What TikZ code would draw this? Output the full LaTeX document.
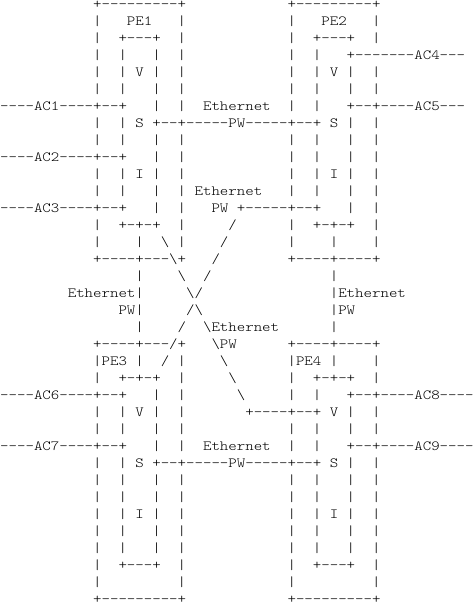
\documentclass[tikz,border=0pt]{standalone}
\usepackage{fontspec}
\setmonofont[FakeStretch=1.15]{lmmonolt10-regular.otf}
\usepackage{tikz}

\begin{document}
\begin{tikzpicture}[x=8.45pt,y=17pt,
  asciirow/.style={anchor=base west,inner sep=0pt,font=\ttfamily\fontsize{14pt}{17pt}\selectfont}]
\useasboundingbox (0,0) rectangle (474pt,-603pt);
\node[asciirow] (row0) at (0,-0.5) {\obeyspaces{}           +---------+            +---------+};
\node[asciirow] (row1) at (0,-1.5) {\obeyspaces{}           |   PE1   |            |   PE2   |};
\node[asciirow] (row2) at (0,-2.5) {\obeyspaces{}           |  +---+  |            |  +---+  |};
\node[asciirow] (row3) at (0,-3.5) {\obeyspaces{}           |  |   |  |            |  |   +-------AC4---};
\node[asciirow] (row4) at (0,-4.5) {\obeyspaces{}           |  | V |  |            |  | V |  |};
\node[asciirow] (row5) at (0,-5.5) {\obeyspaces{}           |  |   |  |            |  |   |  |};
\node[asciirow] (row6) at (0,-6.5) {\obeyspaces{}----AC1----+--+   |  |  Ethernet  |  |   +--+----AC5---};
\node[asciirow] (row7) at (0,-7.5) {\obeyspaces{}           |  | S +--+-----PW-----+--+ S |  |};
\node[asciirow] (row8) at (0,-8.5) {\obeyspaces{}           |  |   |  |            |  |   |  |};
\node[asciirow] (row9) at (0,-9.5) {\obeyspaces{}----AC2----+--+   |  |            |  |   |  |};
\node[asciirow] (row10) at (0,-10.5) {\obeyspaces{}           |  | I |  |            |  | I |  |};
\node[asciirow] (row11) at (0,-11.5) {\obeyspaces{}           |  |   |  | Ethernet   |  |   |  |};
\node[asciirow] (row12) at (0,-12.5) {\obeyspaces{}----AC3----+--+   |  |   PW +-----+--+   |  |};
\node[asciirow] (row13) at (0,-13.5) {\obeyspaces{}           |  +-+-+  |     /      |  +-+-+  |};
\node[asciirow] (row14) at (0,-14.5) {\obeyspaces{}           |    |  \textbackslash{} |    /       |    |    |};
\node[asciirow] (row15) at (0,-15.5) {\obeyspaces{}           +----+---\textbackslash{}+   /        +----+----+};
\node[asciirow] (row16) at (0,-16.5) {\obeyspaces{}                |    \textbackslash{}  /              |};
\node[asciirow] (row17) at (0,-17.5) {\obeyspaces{}        Ethernet|     \textbackslash{}/               |Ethernet};
\node[asciirow] (row18) at (0,-18.5) {\obeyspaces{}              PW|     /\textbackslash{}               |PW};
\node[asciirow] (row19) at (0,-19.5) {\obeyspaces{}                |    /  \textbackslash{}Ethernet      |};
\node[asciirow] (row20) at (0,-20.5) {\obeyspaces{}           +----+---/+   \textbackslash{}PW      +----+----+};
\node[asciirow] (row21) at (0,-21.5) {\obeyspaces{}           |PE3 |  / |    \textbackslash{}       |PE4 |    |};
\node[asciirow] (row22) at (0,-22.5) {\obeyspaces{}           |  +-+-+  |     \textbackslash{}      |  +-+-+  |};
\node[asciirow] (row23) at (0,-23.5) {\obeyspaces{}----AC6----+--+   |  |      \textbackslash{}     |  |   +--+----AC8----};
\node[asciirow] (row24) at (0,-24.5) {\obeyspaces{}           |  | V |  |       +----+--+ V |  |};
\node[asciirow] (row25) at (0,-25.5) {\obeyspaces{}           |  |   |  |            |  |   |  |};
\node[asciirow] (row26) at (0,-26.5) {\obeyspaces{}----AC7----+--+   |  |  Ethernet  |  |   +--+----AC9----};
\node[asciirow] (row27) at (0,-27.5) {\obeyspaces{}           |  | S +--+-----PW-----+--+ S |  |};
\node[asciirow] (row28) at (0,-28.5) {\obeyspaces{}           |  |   |  |            |  |   |  |};
\node[asciirow] (row29) at (0,-29.5) {\obeyspaces{}           |  |   |  |            |  |   |  |};
\node[asciirow] (row30) at (0,-30.5) {\obeyspaces{}           |  | I |  |            |  | I |  |};
\node[asciirow] (row31) at (0,-31.5) {\obeyspaces{}           |  |   |  |            |  |   |  |};
\node[asciirow] (row32) at (0,-32.5) {\obeyspaces{}           |  |   |  |            |  |   |  |};
\node[asciirow] (row33) at (0,-33.5) {\obeyspaces{}           |  +---+  |            |  +---+  |};
\node[asciirow] (row34) at (0,-34.5) {\obeyspaces{}           |         |            |         |};
\node[asciirow] (row35) at (0,-35.5) {\obeyspaces{}           +---------+            +---------+};
\end{tikzpicture}
\end{document}
